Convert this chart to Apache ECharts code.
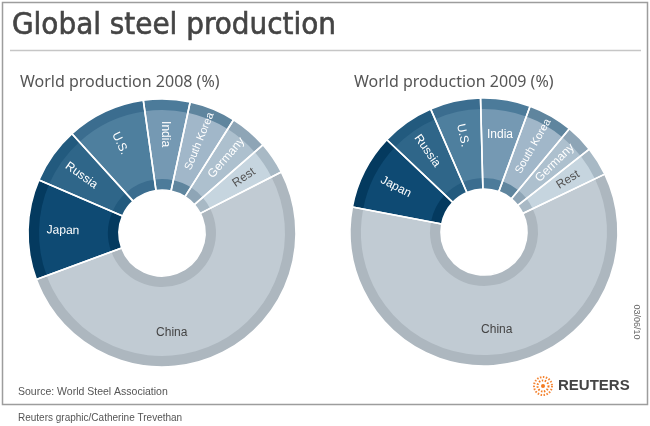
<!DOCTYPE html>
<html>
<head>
<meta charset="UTF-8" />
<title>Global steel production</title>
<script src="https://cdn.jsdelivr.net/npm/echarts@6/dist/echarts.min.js"></script>
<style>
html,body{margin:0;padding:0;background:#fff;}
#main{width:650px;height:426px;}
</style>
</head>
<body>
<div id="main"></div>
<script>
// shares in %, read clockwise starting at China
var countries = ['China', 'Japan', 'Russia', 'U.S.', 'India', 'South Korea', 'Germany', 'Rest'];
var share2008 = [51.9, 12.1, 6.8, 9.5, 5.6, 5.6, 4.6, 3.9];
var share2009 = [60.1, 9.1, 6.4, 6.1, 6.0, 5.4, 3.4, 3.5];

var mainColors = ['#c1cbd3', '#0e4a73', '#2f6689', '#4e7f9e', '#7599b3', '#a1b7c9', '#adc0ce', '#c6d5df'];
var bandColors = ['#adb7bf', '#043a5f', '#225a7e', '#3b6d8f', '#4c7b9a', '#5f859e', '#8ea5b6', '#a8b9c5'];
var labelColors = ['#444', '#fff', '#fff', '#fff', '#fff', '#fff', '#fff', '#555'];
var labelSizes = [12, 12, 12, 12, 12, 11, 12, 12];

function items(values, colors) {
  return values.map(function (v, i) {
    return { name: countries[i], value: v, itemStyle: { color: colors[i] } };
  });
}

function labelItems(values, rotations) {
  return values.map(function (v, i) {
    var lab = { color: labelColors[i], fontSize: labelSizes[i] };
    if (rotations[i] !== null) lab.rotate = rotations[i];
    return { name: countries[i], value: v, label: lab };
  });
}

function donut(values, center, startAngle, rotations, chinaShift) {
  var base = { type: 'pie', center: center, startAngle: startAngle, clockwise: true, silent: true,
    avoidLabelOverlap: false, label: { show: false }, labelLine: { show: false }, animation: false };
  return [
    // dark bands (inner and outer rims)
    Object.assign({}, base, { radius: [43, 134], z: 2, data: items(values, bandColors) }),
    // light middle part
    Object.assign({}, base, { radius: [54, 123], z: 3, data: items(values, mainColors) }),
    // white separators
    Object.assign({}, base, { radius: [43, 134], z: 4,
      itemStyle: { color: 'rgba(0,0,0,0)', borderColor: '#fff', borderWidth: 1.6 },
      data: values.map(function (v, i) { return { name: countries[i], value: v }; }) }),
    // labels
    Object.assign({}, base, { radius: [58, 134], z: 5,
      itemStyle: { color: 'rgba(0,0,0,0)' },
      label: { show: true, position: 'inside', rotate: 'radial', formatter: '{b}',
        fontFamily: 'Liberation Sans, Arial, sans-serif', fontSize: 12, color: '#fff' },
      labelLayout: function (p) {
        if (p.dataIndex === 0 && chinaShift) return { dx: chinaShift[0], dy: chinaShift[1] };
        return {};
      },
      data: labelItems(values, rotations) })
  ];
}

var rot2008 = [0, null, null, null, -90, null, null, null];
var rot2009 = [0, null, null, null, 0, null, null, null];

var chart = echarts.init(document.getElementById('main'), null, { renderer: 'canvas' });
chart.setOption({
  backgroundColor: '#fff',
  animation: false,
  series: [].concat(
    donut(share2008, [162, 233], 27.1, rot2008, [-30, 9]),
    donut(share2009, [484, 232], 25.6, rot2009, null)
  ),
  graphic: [
    { type: 'rect', shape: { x: 2.5, y: 2.5, width: 645, height: 402 },
      style: { fill: 'none', stroke: '#9d9d9d', lineWidth: 1.5 } },
    { type: 'line', shape: { x1: 10, y1: 50.5, x2: 641, y2: 50.5 },
      style: { stroke: '#c6c6c6', lineWidth: 1.5 } },
    { type: 'text', x: 12, y: 26, style: { text: 'Global steel production', fill: '#444',
      stroke: '#444', lineWidth: 0.6,
      font: '31px "DejaVu Sans Condensed", "Open Sans", sans-serif', verticalAlign: 'middle' } },
    { type: 'text', x: 20, y: 82, style: { text: 'World production 2008 (%)', fill: '#555',
      font: '16px "Noto Sans", sans-serif', verticalAlign: 'middle' } },
    { type: 'text', x: 354, y: 82, style: { text: 'World production 2009 (%)', fill: '#555',
      font: '16px "Noto Sans", sans-serif', verticalAlign: 'middle' } },
    { type: 'text', x: 18, y: 392, style: { text: 'Source: World Steel Association', fill: '#555',
      font: '10.5px "Liberation Sans", Arial, sans-serif', verticalAlign: 'middle' } },
    { type: 'text', x: 18, y: 418, style: { text: 'Reuters graphic/Catherine Trevethan', fill: '#555',
      font: '10px "Liberation Sans", Arial, sans-serif', verticalAlign: 'middle' } },
    { type: 'text', x: 636, y: 322, rotation: -Math.PI / 2, style: { text: '03/06/10', fill: '#666',
      font: '9px "Liberation Sans", Arial, sans-serif', align: 'center', verticalAlign: 'middle' } },
    // Reuters logo
    { type: 'circle', shape: { cx: 543, cy: 386, r: 9 },
      style: { fill: 'none', stroke: '#f58634', lineWidth: 2, lineDash: [1.5, 1.5] } },
    { type: 'circle', shape: { cx: 543, cy: 386, r: 5.5 },
      style: { fill: 'none', stroke: '#f47b20', lineWidth: 2, lineDash: [1.5, 1.5] } },
    { type: 'circle', shape: { cx: 543, cy: 386, r: 2 },
      style: { fill: '#f47b20' } },
    { type: 'text', x: 558, y: 386, style: { text: 'REUTERS', fill: '#444',
      font: 'bold 15px "Liberation Sans", sans-serif', verticalAlign: 'middle' } }
  ]
});
</script>
</body>
</html>
